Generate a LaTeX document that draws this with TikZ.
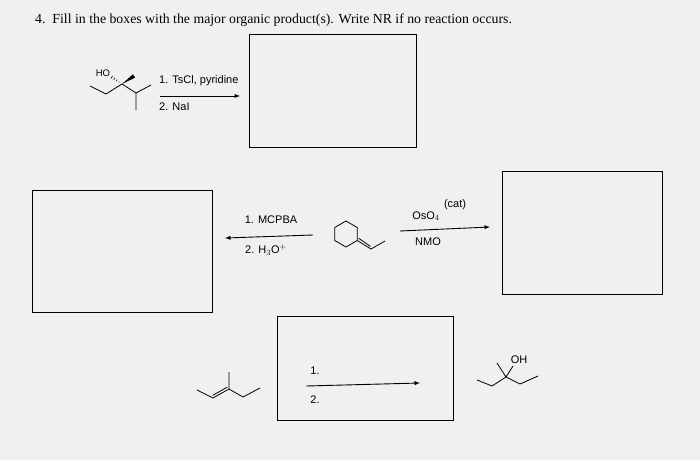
\documentclass[tikz,border=0pt]{standalone}
\usepackage{fontspec}
\setmainfont{Liberation Serif}
\newfontfamily\lab{Liberation Sans}
\usetikzlibrary{calc}
\begin{document}
\begin{tikzpicture}[x=1pt,y=-1pt,
  answerbox/.style={draw=black,line width=1pt},
  bond/.style={line width=0.8pt},
  rxn/.style={line width=0.9pt,-latex},
  lbl/.style={font=\lab\fontsize{11}{12}\selectfont,inner sep=0pt}]
\fill[gray!12] (0,0) rectangle (700,460);
\useasboundingbox (0,0) rectangle (700,460);
\node[anchor=west,inner sep=0pt,font=\fontsize{13.8}{15}\selectfont] (title) at (35,20) {4.\ \ Fill in the boxes with the major organic product(s). Write NR if no reaction occurs.};
% boxes
\node[answerbox,minimum width=167,minimum height=113] (b1) at (333,91) {};
\node[answerbox,minimum width=180,minimum height=122] (b2) at (122,251) {};
\node[answerbox,minimum width=160,minimum height=123] (b3) at (582,233) {};
\node[answerbox,minimum width=176,minimum height=104] (b4) at (365,368) {};
% molecule 1
\coordinate (m1a) at (90,86); \coordinate (m1b) at (106,94); \coordinate (m1c) at (122,84);
\coordinate (m1d) at (136,93); \coordinate (m1e) at (151,85); \coordinate (m1f) at (136,110);
\coordinate (m1g) at (134,76);
\draw[bond] (m1a)--(m1b)--(m1c)--(m1d)--(m1e) (m1d)--(m1f);
\fill ($(m1c)$) -- ($(m1g)+(1.2,1.6)$) -- ($(m1g)+(-1.2,-1.6)$) -- cycle;
\node[lbl,font=\lab\fontsize{9.5}{10}\selectfont] (ho) at (103,73) {HO};
\foreach \t in {0.25,0.45,0.65,0.85}
  \draw[line width=0.6pt] ($(m1c)!\t!(110,76)+(0.9*\t,-1.5*\t)$) -- ($(m1c)!\t!(110,76)+(-0.9*\t,1.5*\t)$);
\coordinate (a1s) at (160,96); \coordinate (a1e) at (240,96);
\draw[rxn] (a1s)--(a1e);
\node[lbl,anchor=west] (t1) at (159,81) {1. TsCl, pyridine};
\node[lbl,anchor=west] (t2) at (159,107) {2. NaI};
% cyclohexylidene
\foreach \i in {0,...,5} \coordinate (r\i) at ($(346,234)+(30+60*\i:13)$);
\draw[bond] (r0)--(r1)--(r2)--(r3)--(r4)--(r5)--cycle;
\coordinate (ex1) at (371,249); \coordinate (ex2) at (385,241);
\draw[bond] (r0)--(ex1)--(ex2);
\draw[bond] ($(r0)+(1.3,-2.3)$)--($(ex1)+(-0.5,-2.6)$);
\coordinate (a2s) at (313,235); \coordinate (a2e) at (225,238);
\draw[rxn] (a2s)--(a2e);
\node[lbl] (t3) at (271,220) {1. MCPBA};
\node[lbl] (t4) at (266,250) {2. H$_3$O$^{+}$};
\coordinate (a3s) at (400,231); \coordinate (a3e) at (490,227);
\draw[rxn] (a3s)--(a3e);
\node[lbl] (t5) at (426,216) {OsO$_4$};
\node[lbl] (t6) at (455,205) {(cat)};
\node[lbl] (t7) at (428,242) {NMO};
% bottom alkene
\coordinate (p1) at (197,390); \coordinate (p2) at (213,398); \coordinate (p3) at (229,389);
\coordinate (p4) at (229,372); \coordinate (p5) at (243,397); \coordinate (p6) at (260,388);
\draw[bond] (p1)--(p2)--(p3)--(p5)--(p6) (p3)--(p4);
\draw[bond] ($(p2)+(-0.3,-2.6)$)--($(p3)+(-1.8,-1.8)$);
\coordinate (a4s) at (306,386); \coordinate (a4e) at (420,383);
\draw[rxn] (a4s)--(a4e);
\node[lbl] (t8) at (315,371) {1.};
\node[lbl] (t9) at (315,400) {2.};
% alcohol
\coordinate (q1) at (477,380); \coordinate (q2) at (492,386); \coordinate (q3) at (506,377);
\coordinate (q4) at (497,363); \coordinate (q5) at (520,384); \coordinate (q6) at (538,376);
\draw[bond] (q1)--(q2)--(q3)--(q5)--(q6) (q3)--(q4) (q3)--(513,366);
\node[lbl] (oh) at (519,360) {OH};
\end{tikzpicture}
\end{document}
